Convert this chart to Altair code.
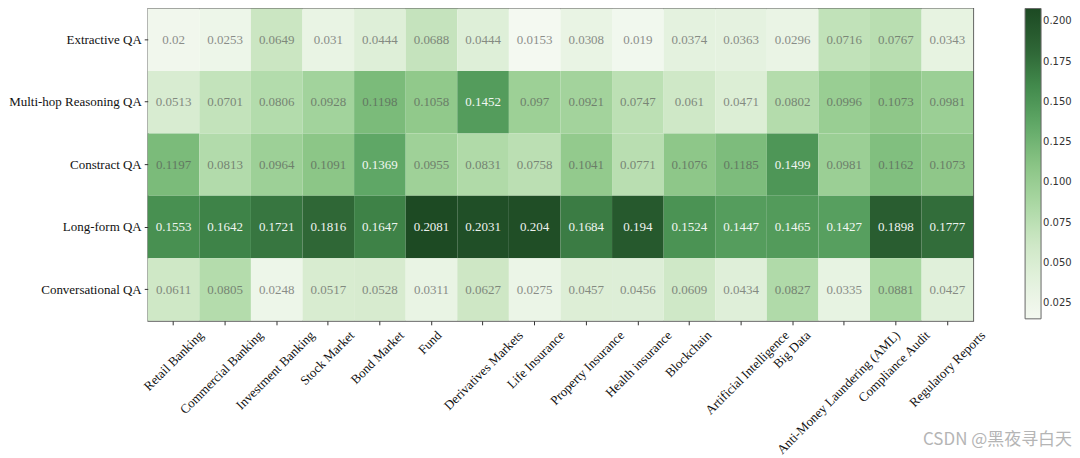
import altair as alt
import pandas as pd

tasks = ["Extractive QA", "Multi-hop Reasoning QA", "Constract QA", "Long-form QA", "Conversational QA"]
domains = ["Retail Banking", "Commercial Banking", "Investment Banking", "Stock Market", "Bond Market",
           "Fund", "Derivatives Markets", "Life Insurance", "Property Insurance", "Health insurance",
           "Blockchain", "Artificial Intelligence", "Big Data", "Anti-Money Laundering (AML)",
           "Compliance Audit", "Regulatory Reports"]

extractive = [0.02, 0.0253, 0.0649, 0.031, 0.0444, 0.0688, 0.0444, 0.0153, 0.0308, 0.019, 0.0374, 0.0363, 0.0296, 0.0716, 0.0767, 0.0343]
multihop = [0.0513, 0.0701, 0.0806, 0.0928, 0.1198, 0.1058, 0.1452, 0.097, 0.0921, 0.0747, 0.061, 0.0471, 0.0802, 0.0996, 0.1073, 0.0981]
constract = [0.1197, 0.0813, 0.0964, 0.1091, 0.1369, 0.0955, 0.0831, 0.0758, 0.1041, 0.0771, 0.1076, 0.1185, 0.1499, 0.0981, 0.1162, 0.1073]
longform = [0.1553, 0.1642, 0.1721, 0.1816, 0.1647, 0.2081, 0.2031, 0.204, 0.1684, 0.194, 0.1524, 0.1447, 0.1465, 0.1427, 0.1898, 0.1777]
conversational = [0.0611, 0.0805, 0.0248, 0.0517, 0.0528, 0.0311, 0.0627, 0.0275, 0.0457, 0.0456, 0.0609, 0.0434, 0.0827, 0.0335, 0.0881, 0.0427]

colorbar_ticks = [0.025, 0.05, 0.075, 0.1, 0.125, 0.15, 0.175, 0.2]

# soft "Greens" colormap stops, as seen in the reference
greens = ["#f4f9f1", "#e3f1dd", "#cde7c4", "#a9d7a2", "#89c484", "#60a867", "#428a4c", "#2d6334", "#1d4a23"]

rows = [extractive, multihop, constract, longform, conversational]
records = []
for t, vals in zip(tasks, rows):
    for d, v in zip(domains, vals):
        records.append({"task": t, "domain": d, "value": v, "label": f"{v:g}"})
df = pd.DataFrame(records)

vmin = min(min(r) for r in rows)
vmax = max(max(r) for r in rows)
stops = [vmin + (vmax - vmin) * i / (len(greens) - 1) for i in range(len(greens))]

SERIF = "Liberation Serif"

x = alt.X("domain:N", sort=domains, title=None,
          axis=alt.Axis(labelAngle=-45, labelAlign="right", labelBaseline="middle",
                        labelOffset=alt.ExprRef("length(datum.label) * 2.0"),
                        labelPadding=8, labelFont=SERIF, labelFontSize=13, labelColor="#111",
                        labelOverlap=False, labelLimit=400,
                        domain=False, ticks=True, tickSize=4, tickColor="#333"))
y = alt.Y("task:N", sort=tasks, title=None,
          axis=alt.Axis(labelFont=SERIF, labelFontSize=13, labelColor="#111", labelPadding=3,
                        labelLimit=400, domain=False, ticks=True, tickSize=3.5, tickColor="#333"))

heat = alt.Chart(df).mark_rect().encode(
    x=x, y=y,
    color=alt.Color("value:Q",
                    scale=alt.Scale(domain=stops, range=greens, interpolate="rgb"),
                    legend=alt.Legend(title=None, values=colorbar_ticks, format=".3f",
                                      gradientLength=311, gradientThickness=16,
                                      gradientStrokeColor="#666", gradientStrokeWidth=1,
                                      labelFont="DejaVu Sans", labelFontSize=10, labelColor="#333",
                                      labelOverlap=False, offset=52, direction="vertical")),
)

text = alt.Chart(df).mark_text(font=SERIF, fontSize=13).encode(
    x=alt.X("domain:N", sort=domains),
    y=alt.Y("task:N", sort=tasks),
    text="label:N",
    color=alt.condition(alt.datum.value > 0.13, alt.value("#ffffff"), alt.value("#555555")),
    opacity=alt.condition(alt.datum.value > 0.13, alt.value(0.92), alt.value(0.65)),
)

watermark = alt.Chart(pd.DataFrame({"t": ["CSDN @黑夜寻白天"]})).mark_text(
    font="Noto Sans CJK SC", fontSize=17, color="#b5b5b5", align="right", baseline="middle"
).encode(text="t:N", x=alt.value(1072 - 146), y=alt.value(440 - 8))

chart = (heat + text + watermark).properties(
    width=827, height=313,
    padding={"left": 0, "top": 0, "right": 0, "bottom": 0},
).configure_view(stroke="#555555", strokeWidth=1.2)

chart.save("out.html", embed_options={"renderer": "svg", "actions": False})
